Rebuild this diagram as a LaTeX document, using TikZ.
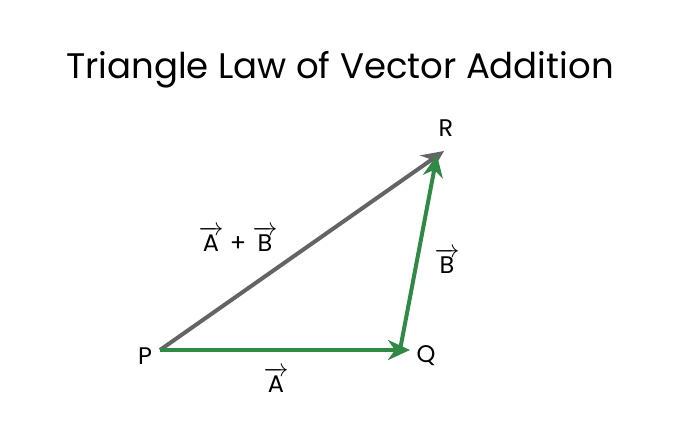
\documentclass[tikz,border=0pt]{standalone}
\usepackage{fontspec}
\setmainfont{Poppins}
\usetikzlibrary{arrows.meta}
\definecolor{gfggreen}{RGB}{48,138,70}
\definecolor{vgray}{RGB}{100,100,100}
\newcommand{\vlab}[1]{$\overrightarrow{\hbox{#1}}$}
\begin{document}
\begin{tikzpicture}[x=1pt,y=-1pt,
  vec/.style={line width=4pt,-{Stealth[length=22pt,width=20pt,inset=7pt]}},
  pt/.style={font=\fontsize{24}{28}\selectfont,inner sep=0pt},
  lab/.style={font=\fontsize{24}{28}\selectfont,inner sep=0pt}]
\useasboundingbox[fill=white] (0,0) rectangle (681,431);
\node[font=\fontsize{35.5}{40}\selectfont,inner sep=0pt] (title) at (340,70) {Triangle Law of Vector Addition};
\coordinate (p) at (160,350);
\coordinate (q) at (410,350);
\coordinate (r) at (444,151);
\coordinate (qs) at (400,350);
\node[pt] (P) at (145,356) {P};
\node[pt] (Q) at (426,356) {Q};
\node[pt] (R) at (446,128) {R};
\draw[vec,vgray] (p) -- (r);
\draw[vec,gfggreen] (qs) -- (437,155);
\draw[vec,gfggreen] (p) -- (q);
\node[lab] (la) at (276,380) {\vlab{A}};
\node[lab] (lb) at (447,261) {\vlab{B}};
\node[lab] (lab) at (238,239) {\vlab{A} + \vlab{B}};
\end{tikzpicture}
\end{document}
